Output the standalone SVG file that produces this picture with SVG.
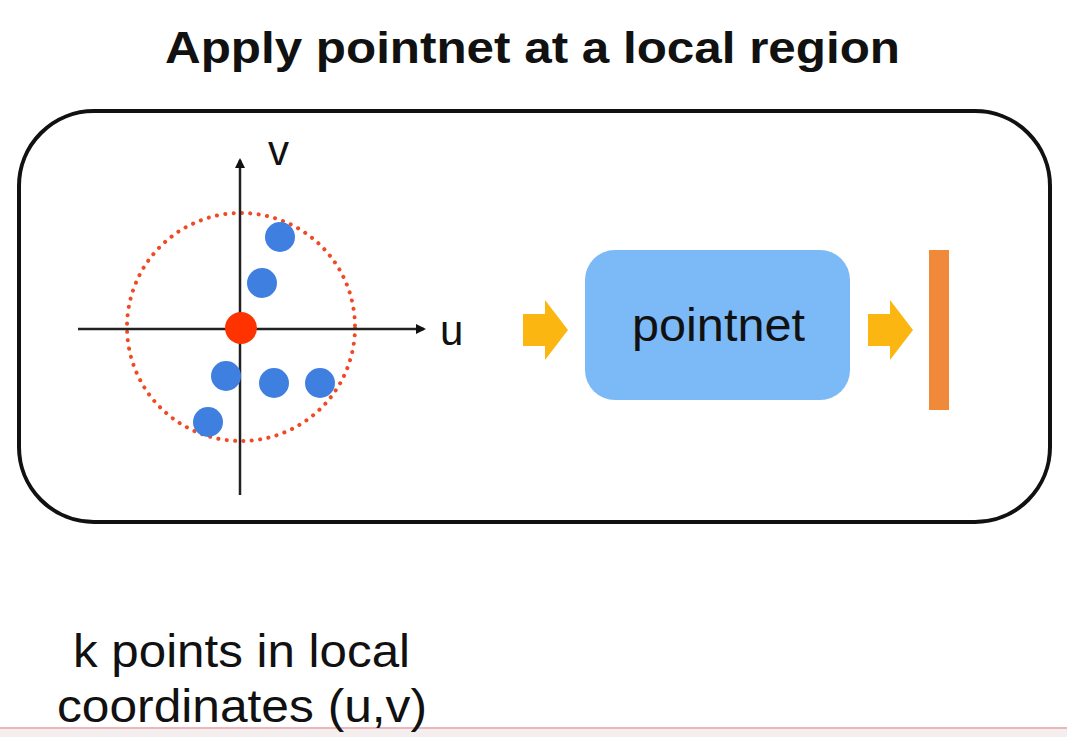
<svg xmlns="http://www.w3.org/2000/svg" width="1067" height="737" viewBox="0 0 1067 737">
<style>
text{font-family:"Liberation Sans",Arial,sans-serif;fill:#111}
.pt{fill:#3f7fe0}
.ax{stroke:#222;stroke-width:2.5}
.ya{fill:#fbb612}
</style>
<defs>
<marker id="ah" markerWidth="10" markerHeight="10" refX="8" refY="5" orient="auto" markerUnits="userSpaceOnUse"><path d="M0,0 L10,5 L0,10 z" fill="#111"/></marker>
</defs>
<rect width="1067" height="737" fill="#fff"/>
<rect x="0" y="728" width="1067" height="9" fill="#f4eeee"/>
<line x1="0" y1="728" x2="1067" y2="728" stroke="#e8b8bc" stroke-width="2"/>
<text x="165" y="63" font-size="44" font-weight="bold" textLength="735" lengthAdjust="spacingAndGlyphs">Apply pointnet at a local region</text>
<g id="frame"><rect x="19" y="111" width="1031" height="411" rx="75" fill="none" stroke="#111" stroke-width="4"/></g>
<g id="plot">
<circle cx="241" cy="327" r="114" fill="none" stroke="#f04a25" stroke-width="4" stroke-dasharray="0.1 8.3" stroke-linecap="round"/>
<g id="connectors">
<line class="ax" x1="78" y1="329" x2="424" y2="329" marker-end="url(#ah)"/>
<line class="ax" x1="240" y1="495" x2="240" y2="160" marker-end="url(#ah)"/>
</g>
<circle class="pt" cx="280" cy="237" r="15"/>
<circle class="pt" cx="262" cy="283" r="15"/>
<circle class="pt" cx="226" cy="376" r="15"/>
<circle class="pt" cx="274" cy="383" r="15"/>
<circle class="pt" cx="320" cy="383" r="15"/>
<circle class="pt" cx="208" cy="422" r="15"/>
<circle cx="241" cy="328" r="16" fill="#ff3300"/>
<text x="268" y="165" font-size="42">v</text>
<text x="440" y="345" font-size="42">u</text>
</g>
<g id="arrow1"><path class="ya" d="M523,314 H545 V300 L568,330 L545,360 V346 H523 z"/></g>
<g id="pointnet"><rect x="585" y="250" width="265" height="150" rx="30" fill="#7cb9f7"/>
<text x="632" y="341" font-size="46" textLength="173" lengthAdjust="spacingAndGlyphs">pointnet</text></g>
<g id="arrow2"><path class="ya" d="M868,314 H890 V300 L913,330 L890,360 V346 H868 z"/></g>
<g id="feature"><rect x="929" y="250" width="20" height="160" fill="#f0893a"/></g>
<text x="73" y="667" font-size="46" textLength="337" lengthAdjust="spacingAndGlyphs">k points in local</text>
<text x="57" y="722" font-size="46" textLength="370" lengthAdjust="spacingAndGlyphs">coordinates (u,v)</text>
</svg>
